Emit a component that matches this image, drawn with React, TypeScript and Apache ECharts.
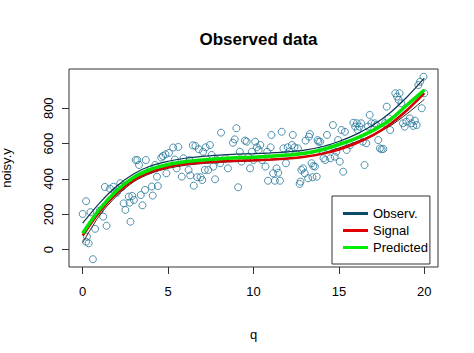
import React, { useEffect, useRef } from "react";
import * as echarts from "echarts";

const pointQ = [
  0.0, 0.2, 0.2, 0.25, 0.35, 0.45, 0.6, 0.73, 1.0, 1.2, 1.3, 1.4, 1.6, 1.8, 1.9, 2.0, 2.2, 2.3, 2.4, 2.5,
  2.7, 2.75, 2.8, 2.9, 3.0, 3.1, 3.2, 3.3, 3.4, 3.5, 3.65, 3.7, 3.95, 4.05, 4.1, 4.25, 4.35, 4.4, 4.6, 4.7,
  4.85, 4.9, 5.05, 5.3, 5.4, 5.5, 5.6, 5.8, 5.9, 6.2, 6.25, 6.3, 6.45, 6.5, 6.6, 6.7, 6.8, 6.9, 7.0, 7.05,
  7.15, 7.2, 7.35, 7.45, 7.55, 7.65, 7.75, 7.85, 8.05, 8.1, 8.35, 8.5, 8.8, 8.9, 9.0, 9.1, 9.2, 9.3, 9.5, 9.6,
  9.7, 9.8, 9.9, 10.0, 10.1, 10.2, 10.3, 10.4, 10.5, 10.7, 10.8, 10.85, 11.0, 11.05, 11.15, 11.25, 11.35, 11.45, 11.55, 11.65,
  11.75, 11.9, 12.0, 12.1, 12.25, 12.3, 12.4, 12.6, 12.7, 12.75, 12.8, 12.9, 13.0, 13.05, 13.2, 13.25, 13.3, 13.4, 13.45, 13.5,
  13.6, 13.7, 13.75, 13.8, 13.9, 14.0, 14.1, 14.2, 14.3, 14.4, 14.5, 14.65, 14.75, 14.85, 14.95, 15.05, 15.15, 15.25, 15.35, 15.45,
  15.65, 15.85, 15.95, 16.05, 16.1, 16.2, 16.3, 16.4, 16.5, 16.6, 16.7, 16.8, 16.9, 17.1, 17.2, 17.3, 17.4, 17.5, 17.6, 17.7,
  17.8, 17.9, 18.0, 18.3, 18.4, 18.5, 18.55, 18.65, 18.75, 18.85, 18.95, 19.15, 19.25, 19.35, 19.45, 19.55, 19.65, 19.75, 19.85, 19.95,
  20.0,
];
const pointY = [
  202, 274, 45, 74, 36, 212, -54, 118, 221, 187, 355, 135, 345, 356, 328, 322, 376, 355, 262, 225,
  300, 266, 158, 304, 281, 507, 507, 479, 309, 251, 338, 507, 451, 357, 306, 479, 413, 360, 521, 530,
  540, 432, 547, 578, 510, 460, 581, 413, 517, 451, 507, 420, 590, 362, 587, 410, 568, 410, 394, 554,
  451, 579, 451, 592, 536, 470, 398, 507, 489, 662, 517, 460, 605, 624, 687, 353, 554, 498, 617, 611,
  526, 460, 554, 507, 611, 579, 564, 592, 507, 470, 554, 390, 579, 649, 432, 390, 460, 435, 390, 667,
  573, 489, 579, 554, 592, 649, 579, 573, 372, 385, 451, 460, 432, 617, 404, 639, 654, 489, 410, 473,
  470, 413, 620, 611, 611, 564, 517, 507, 649, 573, 517, 705, 526, 554, 620, 498, 677, 441, 667, 564,
  592, 718, 696, 715, 677, 696, 715, 611, 479, 602, 696, 762, 715, 715, 705, 620, 573, 568, 570, 715,
  809, 743, 677, 885, 866, 847, 885, 828, 715, 696, 724, 743, 715, 700, 730, 705, 931, 950, 800, 978,
  885,
];

const curveQ = [0, 1, 2, 3, 4, 5, 6, 7, 8, 9, 10, 11, 12, 13, 14, 15, 16, 17, 18, 19, 20];
const observUpper = [150, 265, 360, 430, 475, 500, 517, 528, 535, 540, 543, 547, 553, 563, 582, 612, 652, 705, 775, 865, 970];
const lowerBand = [40, 195, 305, 385, 432, 460, 477, 487, 494, 498, 502, 507, 515, 525, 545, 575, 610, 650, 700, 770, 850];
const signalY = [80, 215, 320, 395, 440, 468, 484, 493, 499, 503, 506, 510, 516, 526, 542, 567, 602, 648, 710, 790, 885];
const predictedY = [93, 230, 335, 410, 455, 482, 497, 507, 515, 520, 523, 528, 535, 545, 565, 595, 630, 675, 735, 820, 903];

const xTicks = [0, 5, 10, 15, 20];
const yTicks = [0, 200, 400, 600, 800];

const FONT = "'Liberation Sans', Arial, sans-serif";

const pair = (xs: number[], ys: number[]) => xs.map((x, i) => [x, ys[i]]);

export default function App() {
  const ref = useRef<HTMLDivElement>(null);
  useEffect(() => {
    if (!ref.current) return;
    const chart = echarts.init(ref.current, undefined, { renderer: "svg" });
    chart.setOption({
      animation: false,
      backgroundColor: "#ffffff",
      textStyle: { fontFamily: FONT, color: "#000" },
      title: {
        text: "Observed data",
        left: 253.5,
        top: 26,
        textAlign: "center",
        textStyle: { fontFamily: FONT, fontSize: 17, fontWeight: "bold", color: "#000" },
      },
      grid: {
        left: 69,
        right: 36,
        top: 69,
        bottom: 86,
        show: true,
        borderColor: "#333",
        borderWidth: 1,
        backgroundColor: "transparent",
        containLabel: false,
        outerBoundsMode: "none",
      },
      legend: {
        orient: "vertical",
        left: 332,
        top: 196,
        padding: [11, 2, 10, 11],
        itemGap: 4,
        itemWidth: 25,
        itemHeight: 3,
        icon: "rect",
        borderColor: "#333",
        borderWidth: 1,
        backgroundColor: "#fff",
        textStyle: { fontFamily: FONT, fontSize: 13, color: "#000" },
        data: ["Observ.", "Signal", "Predicted"],
      },
      xAxis: {
        type: "value",
        min: -0.8,
        max: 20.8,
        name: "q",
        nameLocation: "middle",
        nameGap: 61,
        nameTextStyle: { fontFamily: FONT, fontSize: 13, color: "#000" },
        splitLine: { show: false },
        axisLine: { show: false, onZero: false },
        axisTick: { show: true, length: 7, customValues: xTicks, lineStyle: { color: "#333" } },
        axisLabel: { customValues: xTicks, margin: 18, fontFamily: FONT, fontSize: 13, color: "#000" },
      },
      yAxis: {
        type: "value",
        min: -98,
        max: 1022,
        name: "noisy.y",
        nameLocation: "middle",
        nameGap: 56,
        nameTextStyle: { fontFamily: FONT, fontSize: 13, color: "#000" },
        splitLine: { show: false },
        axisLine: { show: false, onZero: false },
        axisTick: { show: true, length: 7, customValues: yTicks, lineStyle: { color: "#333" } },
        axisLabel: { customValues: yTicks, rotate: 90, margin: 14, fontFamily: FONT, fontSize: 13, color: "#000" },
      },
      series: [
        {
          type: "scatter",
          name: "points",
          data: pair(pointQ, pointY),
          symbol: "circle",
          symbolSize: 7,
          itemStyle: { color: "transparent", borderColor: "#23759a", borderWidth: 1 },
          z: 2,
        },
        {
          type: "line",
          name: "lower",
          data: pair(curveQ, lowerBand),
          smooth: 0.3,
          showSymbol: false,
          lineStyle: { color: "#3a1a1a", width: 1 },
          z: 3,
        },
        {
          type: "line",
          name: "Observ.",
          data: pair(curveQ, observUpper),
          smooth: 0.3,
          showSymbol: false,
          color: "#0b4a6b",
          lineStyle: { color: "#0b3550", width: 1.2 },
          z: 3,
        },
        {
          type: "line",
          name: "Signal",
          data: pair(curveQ, signalY),
          smooth: 0.3,
          showSymbol: false,
          color: "#e00000",
          lineStyle: { color: "#d40000", width: 2.5 },
          z: 4,
        },
        {
          type: "line",
          name: "Predicted",
          data: pair(curveQ, predictedY),
          smooth: 0.3,
          showSymbol: false,
          color: "#00ee00",
          lineStyle: { color: "#00e400", width: 3.5 },
          z: 5,
        },
      ],
    });
    return () => chart.dispose();
  }, []);
  return <div ref={ref} style={{ width: 474, height: 353, position: "absolute", left: 0, top: 0 }} />;
}
